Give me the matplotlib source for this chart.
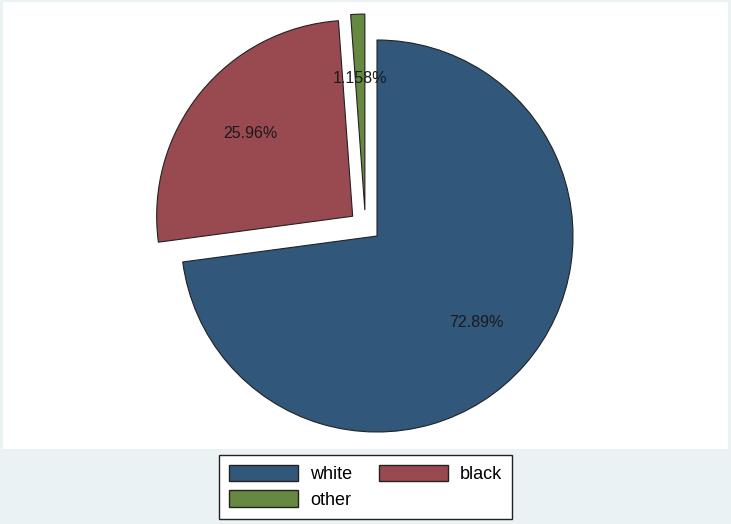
import math
import matplotlib
matplotlib.use("Agg")
import matplotlib.pyplot as plt
from matplotlib.patches import Rectangle

categories = ["white", "black", "other"]
values = [72.89, 25.96, 1.158]
pct_labels = ["72.89%", "25.96%", "1.158%"]
colors = ["#31577b", "#984a50", "#668841"]
explode_frac = [0.0, 0.16, 0.146]
explode_turn = [0.0, 0.0, 23.0]   # deg, direction tweak of the explode

W, H = 731, 524
R = 196
CX, CY = 377, H - 236
fig = plt.figure(figsize=(W / 100, H / 100), dpi=100)
fig.patch.set_facecolor("#eaf2f3")
plt.rcParams["font.family"] = ["Liberation Sans", "DejaVu Sans"]

# white plot region
fig.patches.append(Rectangle((3 / W, (H - 449) / H), 725 / W, 447 / H,
                             transform=fig.transFigure, facecolor="white",
                             edgecolor="none", zorder=-5))

ax = fig.add_axes([0, 0, 1, 1])
ax.set_zorder(1)
ax.set_facecolor("none")
it = iter(pct_labels)
wedges, texts, autotexts = ax.pie(
    values, colors=colors, startangle=90, counterclock=False,
    center=(CX, CY), radius=R, autopct=lambda p: next(it),
    pctdistance=0.67, normalize=True,
    wedgeprops=dict(edgecolor="#222222", linewidth=0.8),
    textprops=dict(fontsize=11.5, color="#1a1a1a"))

for w, t, d, turn in zip(wedges, autotexts, explode_frac, explode_turn):
    mid = math.radians((w.theta1 + w.theta2) / 2 + turn)
    dx, dy = d * R * math.cos(mid), d * R * math.sin(mid)
    w.set_center((CX + dx, CY + dy))
    x, y = t.get_position()
    t.set_position((x + dx, y + dy))

ax.set_xlim(0, W)
ax.set_ylim(0, H)
ax.set_aspect("equal")
ax.axis("off")

# row-wise legend order: white, black / other
order = [0, 2, 1]
leg = fig.legend([wedges[i] for i in order], [categories[i] for i in order],
                 ncol=2, loc="upper center",
                 bbox_to_anchor=(365.5 / W, 1 - 455 / H), borderaxespad=0,
                 fontsize=13, handlelength=3.8, handleheight=1.0,
                 handletextpad=0.65, columnspacing=1.5, labelspacing=0.4,
                 borderpad=0.55, fancybox=False, shadow=False, framealpha=1)
leg.set_zorder(2)
leg.get_frame().set_edgecolor("#222222")
leg.get_frame().set_linewidth(1.0)
for h in leg.legend_handles:
    h.set_edgecolor("#222222")
    h.set_linewidth(1.0)

fig.savefig("out.png", dpi=100, facecolor=fig.get_facecolor())
